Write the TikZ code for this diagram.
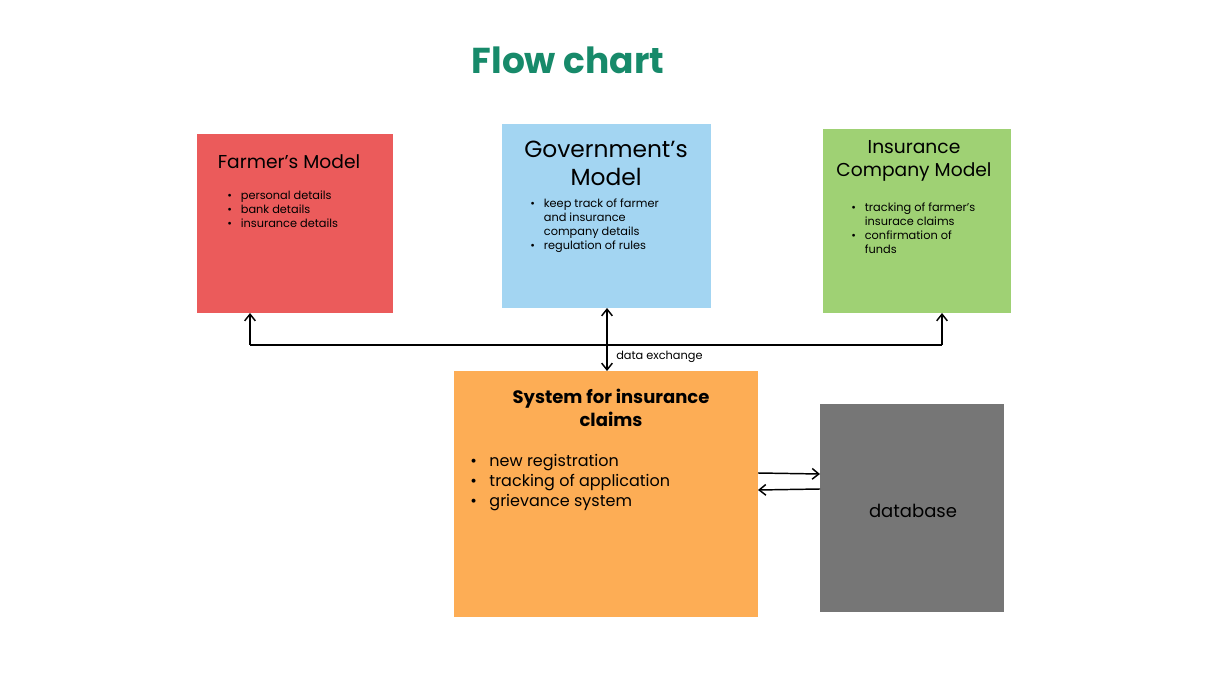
\documentclass[tikz,border=0pt]{standalone}
\usepackage{fontspec}
\setmainfont{Poppins}
\usetikzlibrary{arrows.meta}
\definecolor{cfarm}{HTML}{EB5B5B}
\definecolor{cgov}{HTML}{A3D5F2}
\definecolor{cins}{HTML}{9FD174}
\definecolor{csys}{HTML}{FDAD55}
\definecolor{cdb}{HTML}{767676}
\definecolor{ctitle}{HTML}{178A6A}
\newcommand{\bl}[1]{\makebox[1.2em][l]{\textbullet}#1}
\begin{document}
\begin{tikzpicture}[x=0.75pt,y=-0.75pt,
  box/.style={draw=none,inner sep=0},
  hd/.style={align=center,inner sep=0,text=black},
  li/.style={align=left,inner sep=0,anchor=north west,text=black},
  conn/.style={draw=black,line width=1.1pt,-{Straight Barb[length=5pt,width=8pt]}}]
\useasboundingbox (0,0) rectangle (1207,673);
\fill[white] (0,0) rectangle (1207,673);
\node[text=ctitle,font=\bfseries\fontsize{27}{30}\selectfont] (title) at (568,60) {Flow chart};
\fill[cfarm] (197,134) rectangle (393,313);
\fill[cgov] (502,124) rectangle (711,308);
\fill[cins] (823,129) rectangle (1011,313);
\fill[csys] (454,371) rectangle (758,617);
\fill[cdb] (820,404) rectangle (1004,612);
\coordinate (farmb) at (250,313);
\coordinate (govb) at (607,308);
\coordinate (insb) at (942,313);
\coordinate (syst) at (607,371);
\coordinate (hl) at (250,345);
\coordinate (hr) at (942,345);
\coordinate (s1) at (758,473);
\coordinate (d1) at (820,474);
\coordinate (d2) at (820,489);
\coordinate (s2) at (758,490);
\node[hd,font=\fontsize{14}{16}\selectfont] (ft) at (289,162) {Farmer’s Model};
\node[li,font=\fontsize{8.5}{10.5}\selectfont] (fl) at (227,191) {\bl{personal details}\\\bl{bank details}\\\bl{insurance details}};
\node[hd,font=\fontsize{17.5}{21}\selectfont] (gt) at (606,163) {Government’s\\Model};
\node[li,font=\fontsize{8.5}{10.5}\selectfont] (gl) at (530,199) {\bl{keep track of farmer}\\\hspace*{1.2em}and insurance\\\hspace*{1.2em}company details\\\bl{regulation of rules}};
\node[hd,font=\fontsize{14}{17}\selectfont] (it) at (914,161) {Insurance\\Company Model};
\node[li,font=\fontsize{8.5}{10.5}\selectfont] (il) at (851,203) {\bl{tracking of farmer’s}\\\hspace*{1.2em}insurace claims\\\bl{confirmation of}\\\hspace*{1.2em}funds};
\node[hd,font=\bfseries\fontsize{13.5}{17}\selectfont] (st) at (611,408) {System for insurance\\claims};
\node[li,font=\fontsize{12}{15}\selectfont] (sl) at (470,454) {\bl{new registration}\\\bl{tracking of application}\\\bl{grievance system}};
\node[hd,font=\fontsize{13.5}{16}\selectfont] (db) at (913,511) {database};
\draw[conn] (hl) -- (farmb);
\draw[line width=1.1pt] (hl) -- (hr);
\draw[conn] (hr) -- (insb);
\draw[conn,{Straight Barb[length=5pt,width=8pt]}-{Straight Barb[length=5pt,width=8pt]}] (govb) -- (syst);
\node[anchor=west,inner sep=0,font=\fontsize{8.5}{10}\selectfont] (dx) at (616,357) {data exchange};
\draw[conn] (s1) -- (d1);
\draw[conn] (d2) -- (s2);
\end{tikzpicture}
\end{document}
